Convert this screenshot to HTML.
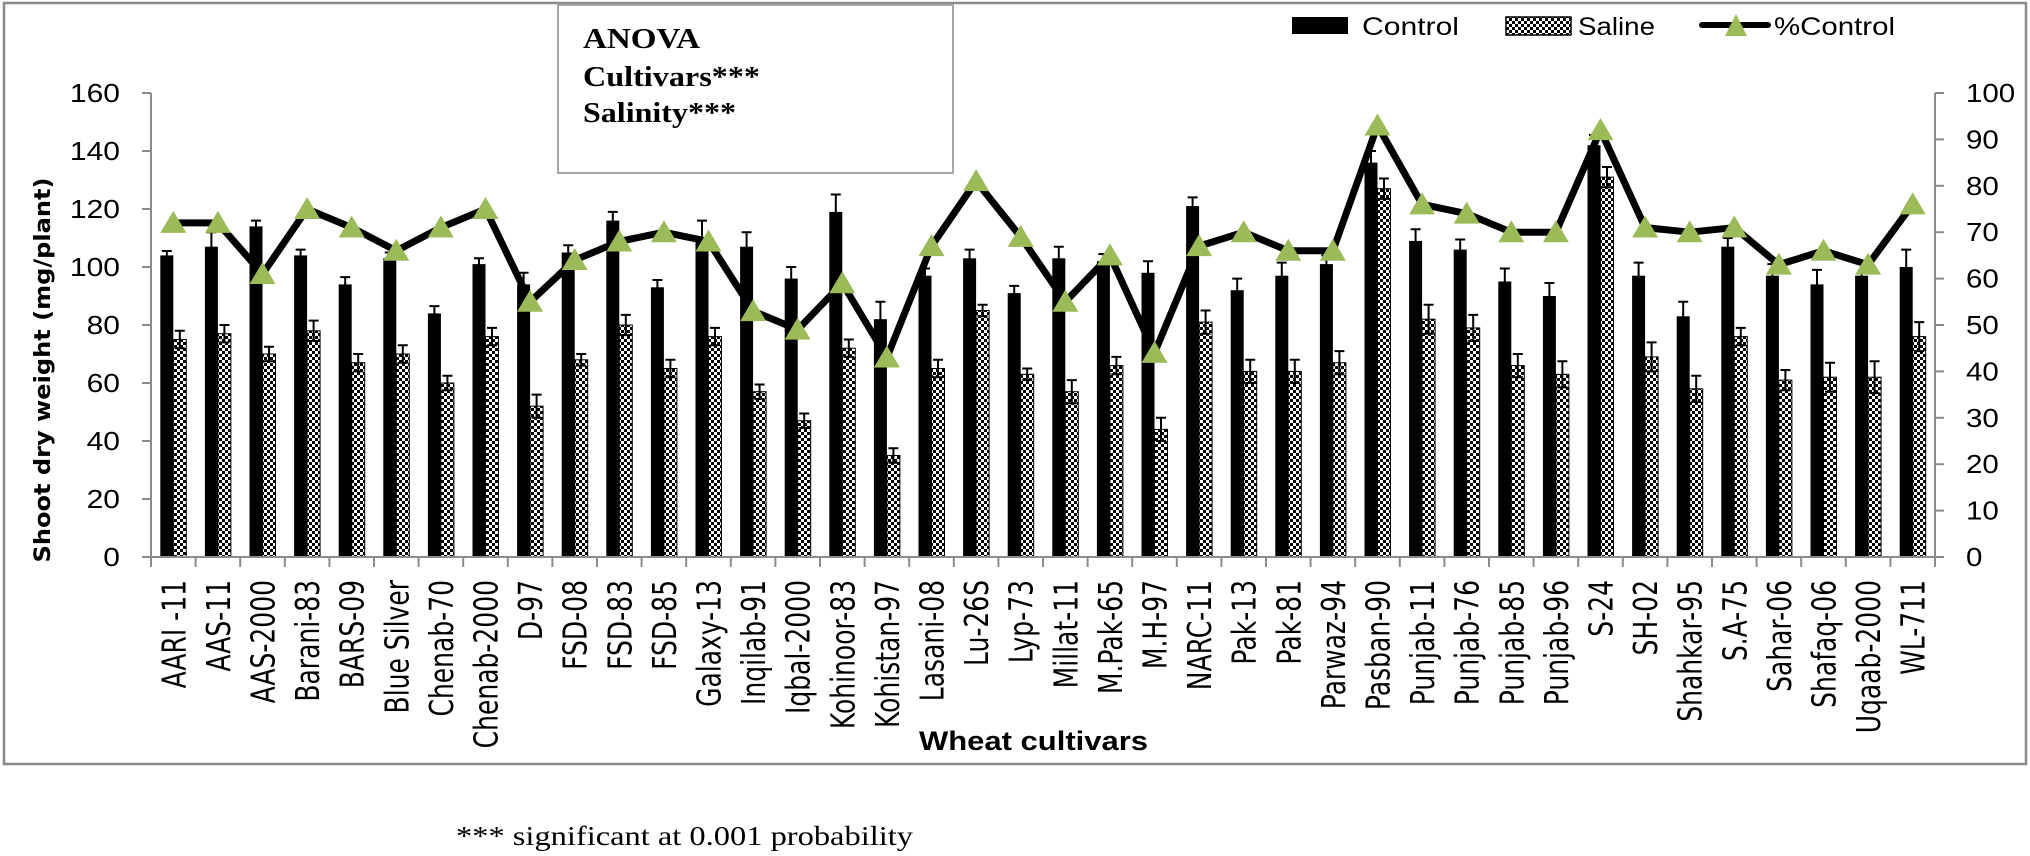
<!DOCTYPE html>
<html><head><meta charset="utf-8"><style>
html,body{margin:0;padding:0;background:#fff;}
svg{display:block;}
</style></head><body>
<svg id="chart" width="2030" height="856" viewBox="0 0 2030 856" xmlns="http://www.w3.org/2000/svg">
<defs>
<pattern id="checker" patternUnits="userSpaceOnUse" width="6" height="6">
<rect width="6" height="6" fill="#000"/>
<rect x="0" y="0" width="3" height="3" fill="#fff"/>
<rect x="3" y="3" width="3" height="3" fill="#fff"/>
</pattern>
</defs>
<rect x="4" y="3" width="2022" height="761" fill="#fff" stroke="#8c8c8c" stroke-width="2.5"/>
<g>
<rect x="558" y="5" width="395" height="168" fill="#fff" stroke="#a6a6a6" stroke-width="2"/>
<text x="583" y="48" font-family="Liberation Serif, serif" font-weight="bold" font-size="29" textLength="117" lengthAdjust="spacingAndGlyphs">ANOVA</text>
<text x="583" y="86" font-family="Liberation Serif, serif" font-weight="bold" font-size="29" textLength="177" lengthAdjust="spacingAndGlyphs">Cultivars***</text>
<text x="583" y="122" font-family="Liberation Serif, serif" font-weight="bold" font-size="29" textLength="153" lengthAdjust="spacingAndGlyphs">Salinity***</text>
</g>
<g>
<rect x="1292" y="17" width="56" height="17" fill="#000"/>
<text x="1362" y="35" font-family="Liberation Sans, sans-serif" font-size="25" textLength="97" lengthAdjust="spacingAndGlyphs">Control</text>
<rect x="1506" y="17" width="65" height="18" fill="url(#checker)" stroke="#000" stroke-width="1.5"/>
<text x="1578" y="35" font-family="Liberation Sans, sans-serif" font-size="25" textLength="77" lengthAdjust="spacingAndGlyphs">Saline</text>
<line x1="1702" y1="25" x2="1768" y2="25" stroke="#000" stroke-width="6" stroke-linecap="round"/>
<polygon points="1736,14 1747,36 1725,36" fill="#9bbb59"/>
<text x="1774" y="35" font-family="Liberation Sans, sans-serif" font-size="25" textLength="121" lengthAdjust="spacingAndGlyphs">%Control</text>
</g>
<g id="plot"></g>
<text transform="translate(50,370) rotate(-90)" text-anchor="middle" font-family="DejaVu Sans, sans-serif" font-weight="bold" font-size="22" textLength="385" lengthAdjust="spacingAndGlyphs">Shoot dry weight (mg/plant)</text>
<text x="919" y="750" font-family="Liberation Sans, sans-serif" font-weight="bold" font-size="27" textLength="229" lengthAdjust="spacingAndGlyphs">Wheat cultivars</text>
<text x="456" y="845" font-family="Liberation Serif, serif" font-size="27" textLength="457" lengthAdjust="spacingAndGlyphs">*** significant at 0.001 probability</text>
</svg>
<script>
const categories = ["AARI -11","AAS-11","AAS-2000","Barani-83","BARS-09","Blue Silver","Chenab-70","Chenab-2000","D-97","FSD-08","FSD-83","FSD-85","Galaxy-13","Inqilab-91","Iqbal-2000","Kohinoor-83","Kohistan-97","Lasani-08","Lu-26S","Lyp-73","Millat-11","M.Pak-65","M.H-97","NARC-11","Pak-13","Pak-81","Parwaz-94","Pasban-90","Punjab-11","Punjab-76","Punjab-85","Punjab-96","S-24","SH-02","Shahkar-95","S.A-75","Sahar-06","Shafaq-06","Uqaab-2000","WL-711"];
const controlValues = [104,107,114,104,94,103,84,101,94,105,116,93,110,107,96,119,82,97,103,91,103,102,98,121,92,97,101,136,109,106,95,90,142,97,83,107,97,94,97,100];
const controlErrors = [1.5,5,2,2,2.5,2,2.5,2,4,2.5,3,2.5,6,5,4,6,6,2.5,3,2.5,4,2.5,4,3,4,4.5,3,4,4,3.5,4.5,4.5,3.5,4.5,5,3,4,5,4.5,6];
const salineValues = [75,77,70,78,67,70,60,76,52,68,80,65,76,57,47,72,35,65,85,63,57,66,44,81,64,64,67,127,82,79,66,63,131,69,58,76,61,62,62,76];
const salineErrors = [3,3,2.5,3.5,3,3,2.5,3,4,2,3.5,3,3,2.5,2.5,3,2.5,3,2,2,4,3,4,4,4,4,4,3.5,5,4.5,4,4.5,3.5,5,4.5,3,3.5,5,5.5,5];
const pctControl = [72,72,61,75,71,66,71,75,55,64,68,70,68,53,49,59,43,67,81,69,55,65,44,67,70,66,66,93,76,74,70,70,92,71,70,71,63,66,63,76];
const leftTicks = [0,20,40,60,80,100,120,140,160];
const rightTicks = [0,10,20,30,40,50,60,70,80,90,100];

const NS = "http://www.w3.org/2000/svg";
const plot = document.getElementById("plot");
const X0 = 151, X1 = 1935, Y0 = 557, YTOP = 93;
const band = (X1 - X0) / categories.length;
function yL(v){ return Y0 - (v/160)*(Y0-YTOP); }
function yR(v){ return Y0 - (v/100)*(Y0-YTOP); }
function xC(i){ return X0 + band*(i+0.5); }
function mk(tag, attrs, parent){
  const e = document.createElementNS(NS, tag);
  for (const k in attrs) e.setAttribute(k, attrs[k]);
  (parent||plot).appendChild(e);
  return e;
}
const barW = 13;
// bars
categories.forEach((c,i)=>{
  const cx = xC(i);
  const cy = yL(controlValues[i]);
  const b1 = mk("rect",{x:cx-barW,y:cy,width:barW,height:Y0-cy,fill:"#000"});
  
  
  const sy = yL(salineValues[i]);
  const b2 = mk("rect",{x:cx,y:sy,width:barW,height:Y0-sy,fill:"url(#checker)",stroke:"#000","stroke-width":1});
  
  
  // error bars
  const ex1 = cx-barW/2, et1 = yL(controlValues[i]+controlErrors[i]), eb1 = yL(controlValues[i]-controlErrors[i]);
  const e1 = mk("path",{d:`M${ex1},${eb1}V${et1}M${ex1-5},${et1}H${ex1+5}M${ex1-5},${eb1}H${ex1+5}`,stroke:"#000","stroke-width":2,fill:"none"});
  
  
  const ex2 = cx+barW/2, et2 = yL(salineValues[i]+salineErrors[i]), eb2 = yL(salineValues[i]-salineErrors[i]);
  const e2 = mk("path",{d:`M${ex2},${eb2}V${et2}M${ex2-5},${et2}H${ex2+5}M${ex2-5},${eb2}H${ex2+5}`,stroke:"#000","stroke-width":2,fill:"none"});
  
  
});
// axes
const axL = mk("line",{x1:X0,y1:YTOP,x2:X0,y2:Y0,stroke:"#8c8c8c","stroke-width":2});


const axR = mk("line",{x1:X1,y1:YTOP,x2:X1,y2:Y0,stroke:"#8c8c8c","stroke-width":2});


const axX = mk("line",{x1:X0-9,y1:Y0,x2:X1+9,y2:Y0,stroke:"#8c8c8c","stroke-width":2});


leftTicks.forEach(v=>{
  const y = yL(v);
  const t = mk("line",{x1:X0-9,y1:y,x2:X0,y2:y,stroke:"#8c8c8c","stroke-width":2});
  
  
  const s = String(v);
  const l = mk("text",{x:120,y:y+9,"text-anchor":"end","font-family":"Liberation Sans, sans-serif","font-size":26,textLength:s.length*16.7,lengthAdjust:"spacingAndGlyphs"});
  l.textContent = s;
  
  
});
rightTicks.forEach(v=>{
  const y = yR(v);
  const t = mk("line",{x1:X1,y1:y,x2:X1+9,y2:y,stroke:"#8c8c8c","stroke-width":2});
  
  
  const s = String(v);
  const l = mk("text",{x:1966,y:y+9,"font-family":"Liberation Sans, sans-serif","font-size":26,textLength:s.length*16.4,lengthAdjust:"spacingAndGlyphs"});
  l.textContent = s;
  
  
});
for (let i=0;i<=categories.length;i++){
  const x = X0 + band*i;
  const t = mk("line",{x1:x,y1:Y0,x2:x,y2:Y0+10,stroke:"#8c8c8c","stroke-width":2});
  
  
}
categories.forEach((c,i)=>{
  const x = xC(i) + 12;
  const l = mk("text",{transform:`translate(${x},580) rotate(-90) scale(1,1.3)`,"text-anchor":"end","font-family":"DejaVu Sans, sans-serif","font-size":25});
  l.textContent = c;
  
  
});
// line series
const pts = pctControl.map((v,i)=>xC(i)+","+yR(v)).join(" ");
const line = mk("polyline",{points:pts,fill:"none",stroke:"#000","stroke-width":7,"stroke-linejoin":"round"});


pctControl.forEach((v,i)=>{
  const x = xC(i), y = yR(v);
  const m = mk("polygon",{points:`${x},${y-12} ${x+13},${y+10} ${x-13},${y+10}`,fill:"#9bbb59"});
  
  
});
</script>
</body></html>
